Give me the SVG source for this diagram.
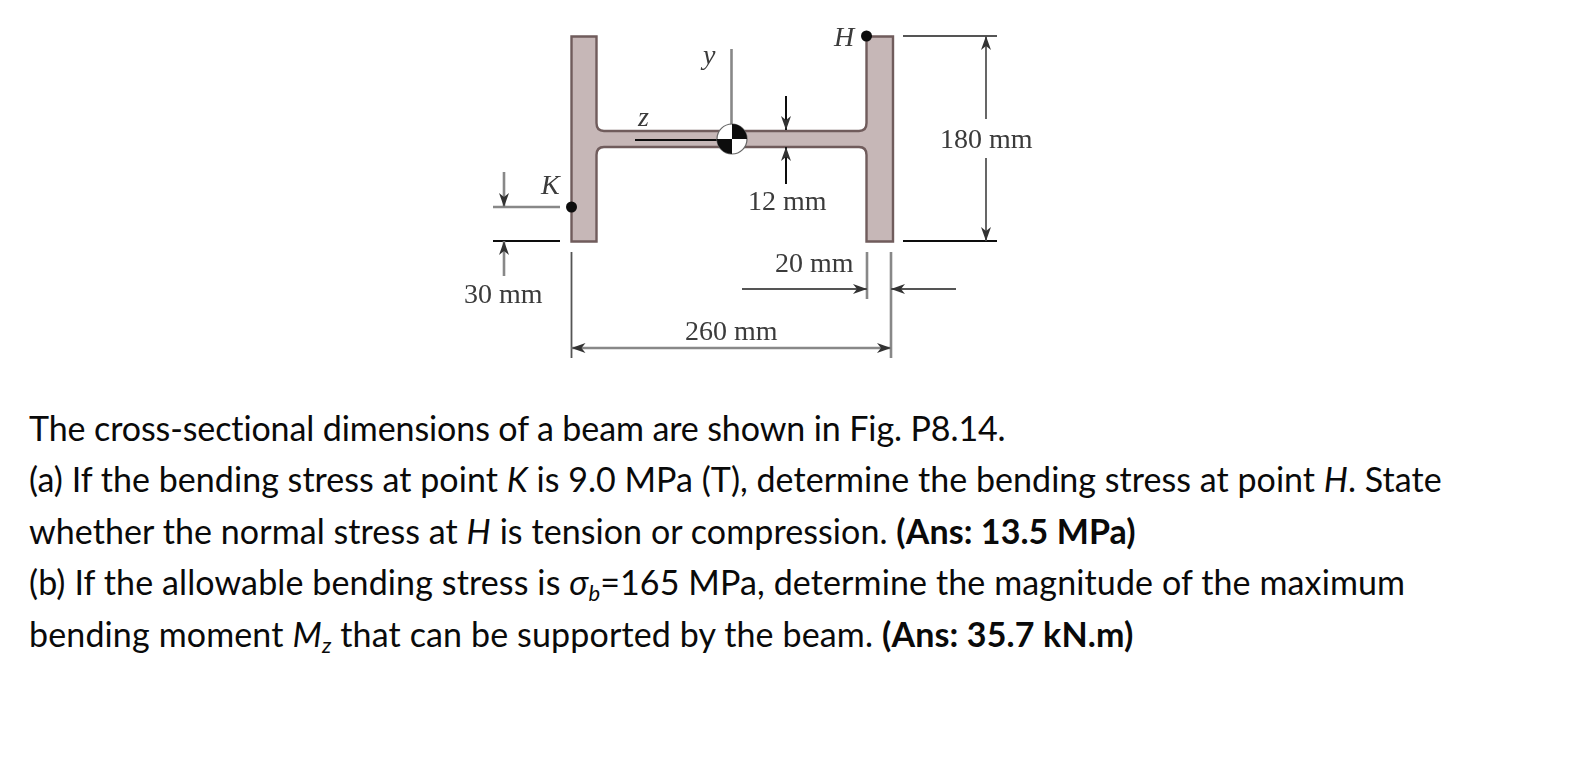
<svg xmlns="http://www.w3.org/2000/svg" width="1570" height="760" viewBox="0 0 1570 760">
<style>
.t{font-family:Lato,"Noto Sans",sans-serif;font-size:34px;fill:#0a0a0a}
.b{font-weight:700}
.i{font-style:italic}
.d{font-family:"Liberation Serif",serif;font-size:28px;fill:#3a3a3a}
.l{stroke:#555;stroke-width:1.8;fill:none}
.k{stroke:#111;stroke-width:2;fill:none}
.g{stroke:#888;stroke-width:2.6;fill:none}
</style>
<defs>
<marker id="a" markerWidth="16" markerHeight="12" refX="14" refY="6" orient="auto-start-reverse" markerUnits="userSpaceOnUse"><path d="M0 1L14 6L0 11L4 6Z" fill="#333"/></marker>
<filter id="s" x="0" y="0" width="100%" height="100%"><feGaussianBlur stdDeviation="0.5"/></filter>
</defs>
<rect width="1570" height="760" fill="#fff"/>
<g filter="url(#s)">
<g id="beam">
<path d="M571.500 36.500H596.500V123Q596.500 131 604 131H859Q866.500 131 866.500 123V36.500H893V241.500H866.500V155Q866.500 147 859 147H604Q596.500 147 596.500 155V241.500H571.500Z" fill="#c6b7b7" stroke="#6f5b5b" stroke-width="2.400"/>
</g>
<g id="connectors">
<path class="g" d="M731.500 49V126"/>
<path class="k" d="M635 140H718"/>
<path class="k" d="M786 96V130" marker-end="url(#a)"/>
<path class="k" d="M786 184V147" marker-end="url(#a)"/>
<path class="g" d="M493 207H560"/>
<path class="k" d="M493 241H560"/>
<path class="g" d="M504 172V207" marker-end="url(#a)"/>
<path class="g" d="M504 276V241" marker-end="url(#a)"/>
<path class="l" d="M903 36H997"/>
<path class="k" d="M903 241H997"/>
<path class="l" d="M986 119V36" marker-end="url(#a)"/>
<path class="l" d="M986 158V241" marker-end="url(#a)"/>
<path class="g" d="M867 252V299M891 252V358"/>
<path class="l" d="M571.500 252V358"/>
<path class="l" d="M742 289H867" marker-end="url(#a)"/>
<path class="l" d="M956 289H891" marker-end="url(#a)"/>
<path class="g" d="M571.500 348H891" marker-start="url(#a)" marker-end="url(#a)"/>
</g>
<g id="centroid">
<circle cx="732" cy="139" r="15" fill="#fff" stroke="#666" stroke-width="1.200"/>
<path d="M732 124A15 15 0 0 1 747 139H732ZM732 139V154A15 15 0 0 1 717 139Z" fill="#0a0a0a"/>
</g>
<g id="point-H"><circle cx="866.500" cy="36" r="5.500" fill="#0a0a0a"/><text class="d i" x="834" y="46">H</text></g>
<g id="point-K"><circle cx="571.500" cy="207" r="5.500" fill="#0a0a0a"/><text class="d i" x="541" y="194">K</text></g>
<g id="labels">
<text class="d i" x="703" y="64">y</text>
<text class="d i" x="638" y="126">z</text>
<text class="d" x="748" y="210">12 mm</text>
<text class="d" x="940" y="148">180 mm</text>
<text class="d" x="775" y="272">20 mm</text>
<text class="d" x="464" y="303">30 mm</text>
<text class="d" x="685" y="340">260 mm</text>
</g>
</g>
<g id="text">
<text class="t" x="29" y="441" letter-spacing="-0.1">The cross-sectional dimensions of a beam are shown in Fig. P8.14.</text>
<text class="t" x="29" y="492" letter-spacing="0.04">(a) If the bending stress at point <tspan class="i">K</tspan> is 9.0 MPa (T), determine the bending stress at point <tspan class="i">H</tspan>. State</text>
<text class="t" x="29" y="544" letter-spacing="0.08">whether the normal stress at <tspan class="i">H</tspan> is tension or compression. <tspan class="b">(Ans: 13.5 MPa)</tspan></text>
<text class="t" x="29" y="595" letter-spacing="0.12">(b) If the allowable bending stress is <tspan class="i">σ</tspan><tspan class="i" font-size="22" dy="6">b</tspan><tspan dy="-6">=165 MPa, determine the magnitude of the maximum</tspan></text>
<text class="t" x="29" y="647" letter-spacing="0.14">bending moment <tspan class="i">M</tspan><tspan class="i" font-size="22" dy="6">z</tspan><tspan dy="-6"> that can be supported by the beam. </tspan><tspan class="b">(Ans: 35.7 kN.m)</tspan></text>
</g>
</svg>
